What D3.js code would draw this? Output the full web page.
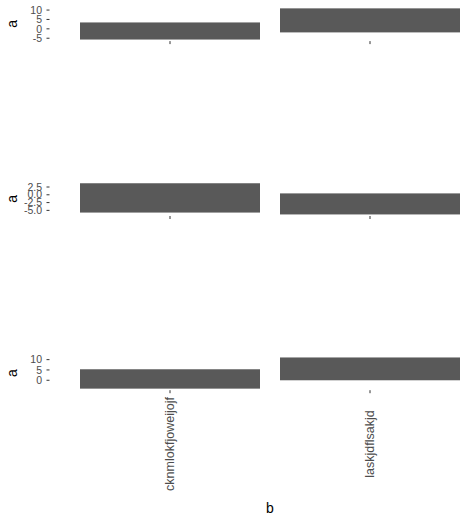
<!DOCTYPE html>
<html><head><meta charset="utf-8">
<script src="https://cdn.jsdelivr.net/npm/d3@7"></script>
<style>body{margin:0;background:#fff}</style>
</head><body>
<svg id="c" width="474" height="517"></svg>
<script>
const categories = ["cknmlokfjoweijojf", "laskjdflsakjd"];
const panel1Low = [-5.7, -1.9];
const panel1High = [3.4, 10.9];
const panel1Ticks = [-5, 0, 5, 10];
const panel1TickLabels = ["-5", "0", "5", "10"];
const panel2Low = [-5.7, -6.3];
const panel2High = [3.7, 0.45];
const panel2Ticks = [-5, -2.5, 0, 2.5];
const panel2TickLabels = ["-5.0", "-2.5", "0.0", "2.5"];
const panel3Low = [-4.05, 0];
const panel3High = [5.33, 11.05];
const panel3Ticks = [0, 5, 10];
const panel3TickLabels = ["0", "5", "10"];
const yTitle = "a";
const xTitle = "b";

const panels = [
  {low: panel1Low, high: panel1High, ticks: panel1Ticks, labels: panel1TickLabels, top: 6.8, xlabels: false},
  {low: panel2Low, high: panel2High, ticks: panel2Ticks, labels: panel2TickLabels, top: 181.7, xlabels: false},
  {low: panel3Low, high: panel3High, ticks: panel3Ticks, labels: panel3TickLabels, top: 355.9, xlabels: true}
];
const H = 34.3;
const FONT = "'Liberation Sans', Arial, sans-serif";
const svg = d3.select("#c");
const x = d3.scaleBand().domain(categories).range([70, 470]).paddingInner(0.1).paddingOuter(0.05);

panels.forEach(p => {
  const lo = d3.min(p.low), hi = d3.max(p.high), r = hi - lo;
  const y = d3.scaleLinear().domain([lo - 0.05 * r, hi + 0.05 * r]).range([p.top + H, p.top]);
  const g = svg.append("g");
  g.selectAll("rect").data(categories).join("rect")
    .attr("x", d => x(d))
    .attr("width", x.bandwidth())
    .attr("y", (d, i) => y(p.high[i]))
    .attr("height", (d, i) => y(p.low[i]) - y(p.high[i]))
    .attr("fill", "#595959");
  // y ticks
  p.ticks.forEach((t, i) => {
    g.append("line").attr("x1", 46.5).attr("x2", 49.5).attr("y1", y(t)).attr("y2", y(t))
      .attr("stroke", "#333").attr("stroke-width", 1);
    g.append("text").attr("x", 42).attr("y", y(t)).attr("dy", "0.35em")
      .attr("text-anchor", "end").attr("font-family", FONT).attr("font-size", 10.5)
      .attr("fill", "#4d4d4d").text(p.labels[i]);
  });
  // x ticks
  categories.forEach(c => {
    const cx = x(c) + x.bandwidth() / 2;
    g.append("line").attr("x1", cx).attr("x2", cx).attr("y1", p.top + H).attr("y2", p.top + H + 3)
      .attr("stroke", "#333").attr("stroke-width", 1);
    if (p.xlabels) {
      g.append("text").attr("transform", `translate(${cx},444) rotate(-90)`)
        .attr("dy", "0.35em").attr("text-anchor", "middle")
        .attr("font-family", FONT).attr("font-size", 12.5).attr("fill", "#4d4d4d").text(c);
    }
  });
  g.append("text").attr("transform", `translate(12,${p.top + H / 2}) rotate(-90)`)
    .attr("dy", "0.35em").attr("text-anchor", "middle")
    .attr("font-family", FONT).attr("font-size", 14).attr("fill", "#000").text(yTitle);
});
svg.append("text").attr("x", 270).attr("y", 508).attr("dy", "0.35em").attr("text-anchor", "middle")
  .attr("font-family", FONT).attr("font-size", 14).attr("fill", "#000").text(xTitle);
</script>
</body></html>
